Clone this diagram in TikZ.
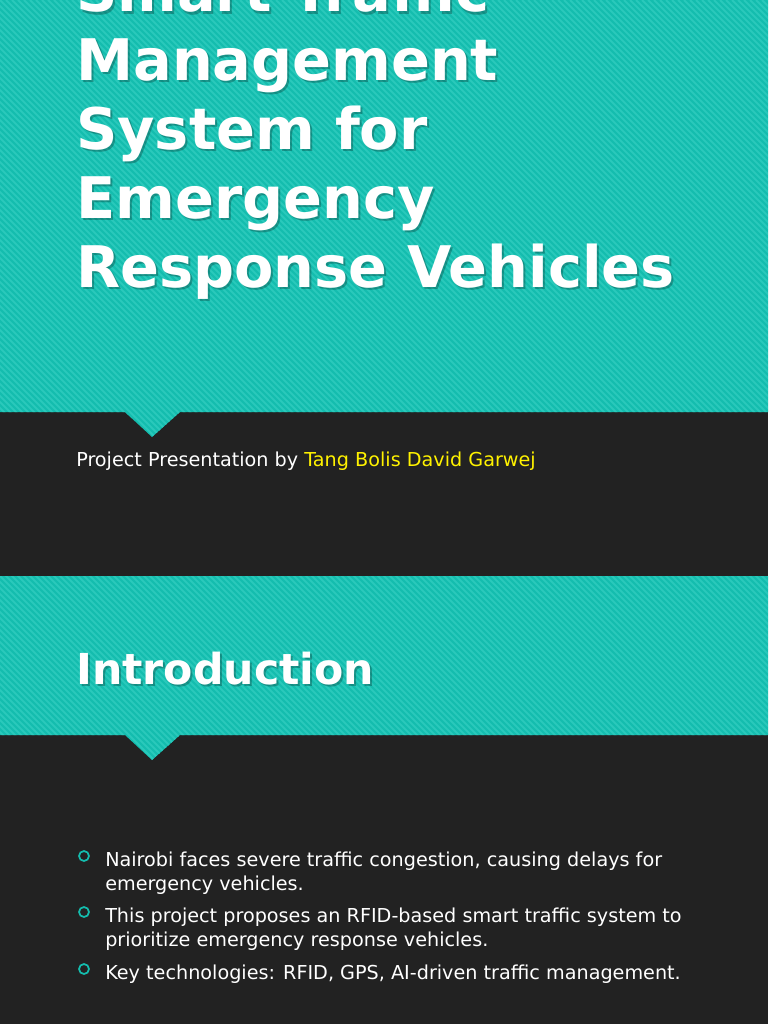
\documentclass[tikz,border=0pt]{standalone}
\usepackage{fontspec}
\setmainfont{DejaVu Sans}
\definecolor{teal1}{HTML}{14BDAE}
\definecolor{teal2}{HTML}{2AC9BB}
\definecolor{dark}{HTML}{222222}
\definecolor{yel}{HTML}{FFF200}
\begin{document}
\begin{tikzpicture}[x=0.75pt,y=-0.75pt,
  ttl/.style={anchor=base west,inner sep=0,text=white,font=\bfseries\fontsize{43}{52}\selectfont},
  shd/.style={anchor=base west,inner sep=0,text=black,opacity=0.25,font=\bfseries\fontsize{43}{52}\selectfont},
  body/.style={anchor=base west,inner sep=0,text=white,font=\fontsize{14.4}{18}\selectfont},
  bul/.style={draw=teal1,line width=1.3pt}]
\useasboundingbox (0,0) rectangle (768,1024);
% dark bands
\fill[dark] (0,412) rectangle (768,576);
\fill[dark] (0,735) rectangle (768,1024);
% teal bands with notches and stripes
\fill[teal1] (0,0) -- (768,0) -- (768,412) -- (180,412) -- (152,437) -- (125,412) -- (0,412) -- cycle;
\fill[teal1] (0,576) -- (768,576) -- (768,735) -- (180,735) -- (152,760) -- (125,735) -- (0,735) -- cycle;
\begin{scope}
\clip (0,0) -- (768,0) -- (768,412) -- (180,412) -- (152,437) -- (125,412) -- (0,412) -- cycle
      (0,576) -- (768,576) -- (768,735) -- (180,735) -- (152,760) -- (125,735) -- (0,735) -- cycle;
\foreach \i in {-130,...,130}{
  \draw[teal2,line width=1.5pt] ({\i*6},0) -- ({\i*6+1030},1030);
}
\end{scope}
% title shadow and text
\foreach \t/\y [count=\k] in {Smart Traffic/12,Management/80,System for/149,Emergency/218,Response Vehicles/287}{
  \node[shd] (s\k) at (78,\y+2.5) {\t};
  \node[ttl] (t\k) at (76,\y) {\t};
}
\node[body] (pres) at (76,466) {Project Presentation by \textcolor{yel}{Tang Bolis David Garwej}};
\node[shd,font=\bfseries\fontsize{32}{40}\selectfont] (ishd) at (78,686) {Introduction};
\node[ttl,font=\bfseries\fontsize{32}{40}\selectfont] (intro) at (76,684) {Introduction};
% bullets
\draw[bul] (84,856) circle (5);
\draw[bul] (84,912) circle (5);
\draw[bul] (84,969) circle (5);
\node[body] (b1) at (105,866) {Nairobi faces severe traffic congestion, causing delays for};
\node[body] (b1b) at (105,890) {emergency vehicles.};
\node[body] (b2) at (105,922) {This project proposes an RFID-based smart traffic system to};
\node[body] (b2b) at (105,946) {prioritize emergency response vehicles.};
\node[body] (b3) at (105,979) {Key technologies: RFID, GPS, AI-driven traffic management.};
\end{tikzpicture}
\end{document}
